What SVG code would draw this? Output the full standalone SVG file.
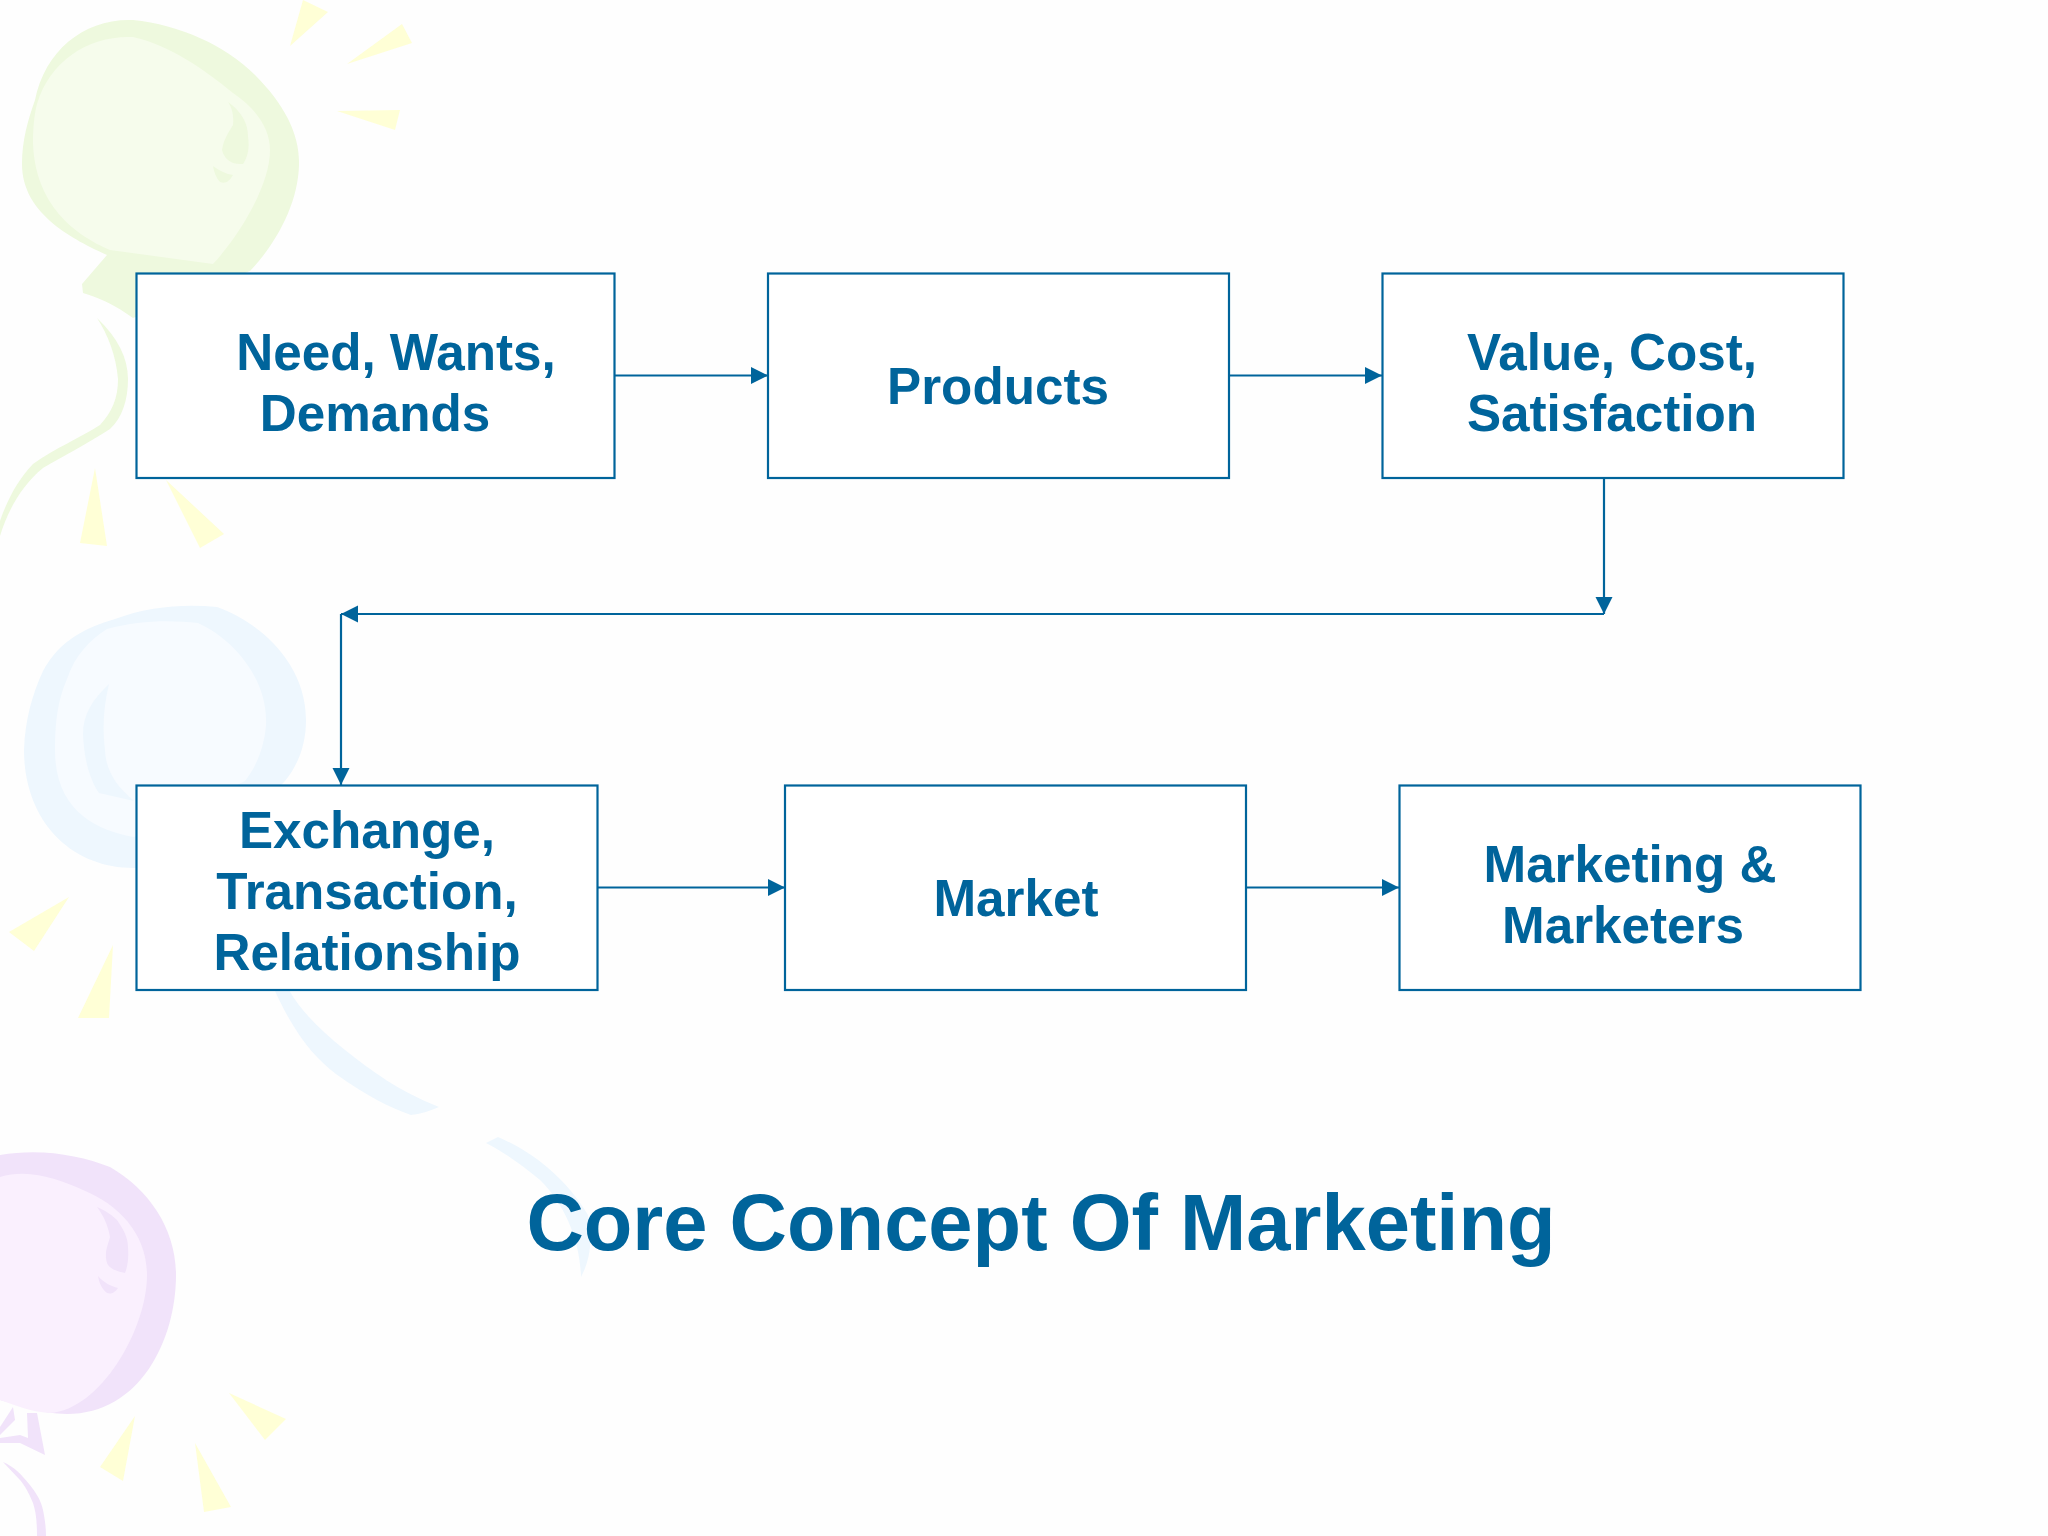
<svg xmlns="http://www.w3.org/2000/svg" width="2048" height="1536" viewBox="0 0 2048 1536">
<style>
.box{fill:#fff;stroke:#00649b;stroke-width:2.2}
.lbl{font-family:"Liberation Sans",Arial,sans-serif;font-weight:700;font-size:51.2px;fill:#00649b;text-anchor:middle}
.ttl{font-size:79.5px}
.con{fill:none;stroke:#00649b;stroke-width:2.2}
.y{fill:#ffffd6}
.go{fill:#eef9de}.gi{fill:#f6fcec}
.bo{fill:#eef7fe}.bi{fill:#f7fbff}
.po{fill:#f1e3fa}.pi{fill:#faf0fe}
</style>
<defs>
<marker id="ah" markerUnits="userSpaceOnUse" markerWidth="19" markerHeight="19" refX="17" refY="8.500" orient="auto">
<path d="M0 0L17 8.500L0 17Z" fill="#00649b"/>
</marker>
</defs>
<rect width="2048" height="1536" fill="#fefefe"/>
<g id="decor">
<path class="go" d="M35 100C45 50 85 18 133 20C180 25 225 45 255 75C285 105 300 135 299 165C298 205 275 245 250 271L133 318C115 305 100 298 83 293L82 284L107 255C75 240 22 215 22 164C22 140 28 120 35 100Z"/>
<path class="gi" d="M37 104C50 60 90 35 133 37C170 45 205 70 233 93C258 110 270 130 270 150C270 185 240 235 213 264L110 250C75 235 35 205 33 143C33 130 34 115 37 104Z"/>
<path class="go" d="M228 102C242 112 248 124 248 136C250 150 247 158 243 164C230 165 224 158 222 150C224 138 229 132 233 125C234 115 232 108 228 102Z"/>
<path class="go" d="M213 166C220 171 226 174 233 175C229 182 225 184 220 182C216 178 214 172 213 166Z"/>
<path class="go" d="M97 318C118 338 128 358 128 379C128 400 122 418 110 429C85 445 65 455 43 468C22 485 8 510 0 536L0 521C8 498 18 480 33 464C55 448 80 438 100 425C112 412 118 398 118 379C116 355 108 335 97 318Z"/>
<path class="y" d="M303 0L328 12L290 46Z"/><path class="y" d="M402 24L412 43L347 64Z"/><path class="y" d="M337 111L400 110L395 130Z"/>
<path class="y" d="M95 468L107 546L80 543Z"/><path class="y" d="M166 480L224 534L200 548Z"/>
<path class="bo" d="M115 619C150 606 185 604 217 607C255 620 306 660 306 720C306 745 298 765 285 781L200 870L134 868C70 868 24 820 24 750C25 720 32 695 43 671C60 640 85 628 115 619Z"/>
<path class="bi" d="M107 629C140 620 170 620 198 623C235 640 268 680 266 725C264 750 255 768 245 781L134 837C95 830 55 810 55 750C55 720 58 700 67 679C75 655 90 640 107 629Z"/>
<path class="bo" d="M109 684C92 700 83 715 83 734C84 760 90 780 99 793L134 801C115 785 106 770 105 750C102 725 104 705 109 684Z"/>
<path class="bo" d="M275 991C295 1035 315 1058 336 1074C365 1095 390 1108 411 1115C420 1114 430 1111 439 1107C400 1092 370 1070 345 1050C320 1030 300 1010 289 990Z"/>
<path class="bo" d="M486 1143L498 1137C540 1155 570 1185 588 1215C593 1240 590 1260 581 1277C580 1240 565 1205 540 1180C522 1165 505 1153 486 1143Z"/>
<path class="y" d="M69 897L9 932L34 951Z"/><path class="y" d="M113 945L109 1018L78 1018Z"/>
<path class="po" d="M0 1155C40 1148 80 1155 110 1167C150 1190 176 1230 176 1275C176 1340 140 1414 67 1414C40 1414 20 1405 0 1400Z"/>
<path class="pi" d="M0 1177C30 1168 60 1180 83 1190C120 1205 147 1235 147 1275C147 1330 100 1410 50 1413C30 1412 15 1405 0 1400Z"/>
<path class="po" d="M97 1207C106 1211 112 1215 117 1220C124 1230 128 1238 128 1247C129 1260 127 1268 125 1273C115 1271 109 1268 107 1263C104 1252 108 1245 110 1237C108 1225 103 1215 97 1207Z"/>
<path class="po" d="M98 1276C104 1283 111 1286 118 1288C114 1294 110 1294 107 1293C102 1289 99 1283 98 1276Z"/>
<path class="po" d="M13 1407L0 1427L0 1435L15 1420Z"/>
<path class="po" d="M27 1413L37 1413L45 1455L20 1443L0 1443L0 1438L20 1435L28 1438Z"/>
<path class="po" d="M3 1462C12 1466 18 1471 23 1477C35 1490 41 1500 43 1510C45 1520 46 1528 46 1536L37 1536C37 1522 36 1512 33 1503C29 1493 25 1486 20 1480Z"/>
<path class="y" d="M135 1416L100 1467L123 1481Z"/><path class="y" d="M195 1443L231 1507L204 1512Z"/><path class="y" d="M229 1393L286 1419L265 1440Z"/>
</g>
<g id="connectors">
<path class="con" d="M614 375.500H768" marker-end="url(#ah)"/>
<path class="con" d="M1229 375.500H1382" marker-end="url(#ah)"/>
<path class="con" d="M1604 478V614" marker-end="url(#ah)"/>
<path class="con" d="M1604 614H341" marker-end="url(#ah)"/>
<path class="con" d="M341 614V785" marker-end="url(#ah)"/>
<path class="con" d="M597 887.500H785" marker-end="url(#ah)"/>
<path class="con" d="M1246 887.500H1399" marker-end="url(#ah)"/>
</g>
<g id="n1"><rect class="box" x="136.500" y="273.500" width="478" height="204.500"/><text class="lbl" x="396" y="370">Need, Wants,</text><text class="lbl" x="375" y="431">Demands</text></g>
<g id="n2"><rect class="box" x="768" y="273.500" width="461" height="204.500"/><text class="lbl" x="998" y="404">Products</text></g>
<g id="n3"><rect class="box" x="1382.500" y="273.500" width="461" height="204.500"/><text class="lbl" x="1612" y="370">Value, Cost,</text><text class="lbl" x="1612" y="431">Satisfaction</text></g>
<g id="n4"><rect class="box" x="136.500" y="785.500" width="461" height="204.500"/><text class="lbl" x="367" y="848">Exchange,</text><text class="lbl" x="367" y="909">Transaction,</text><text class="lbl" x="367" y="970">Relationship</text></g>
<g id="n5"><rect class="box" x="785" y="785.500" width="461" height="204.500"/><text class="lbl" x="1016" y="916">Market</text></g>
<g id="n6"><rect class="box" x="1399.500" y="785.500" width="461" height="204.500"/><text class="lbl" x="1630" y="882">Marketing &amp;</text><text class="lbl" x="1623" y="943">Marketers</text></g>
<text id="title" class="lbl ttl" x="1041" y="1250">Core Concept Of Marketing</text>
</svg>
